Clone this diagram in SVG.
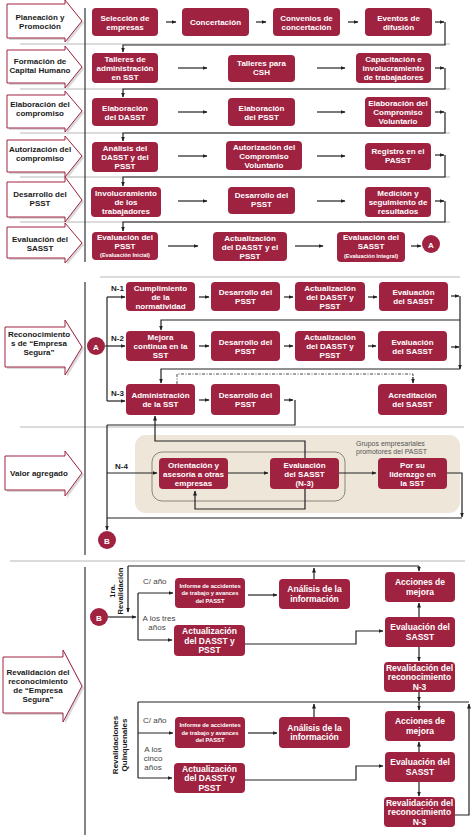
<svg xmlns="http://www.w3.org/2000/svg" width="474" height="835" viewBox="0 0 474 835">
<defs>
<style>
.bx{fill:#9F2241}
.t{font-family:"Liberation Sans",Arial,sans-serif;font-weight:700;fill:#fff;font-size:8px;text-anchor:middle}
.t3{font-family:"Liberation Sans",Arial,sans-serif;font-weight:700;fill:#fff;font-size:8.5px;text-anchor:middle}
.ts{font-size:5.5px}
.ti{font-family:"Liberation Sans",Arial,sans-serif;font-weight:700;fill:#fff;font-size:5.8px;text-anchor:middle}
.pl{font-family:"Liberation Sans",Arial,sans-serif;font-weight:700;fill:#1a1a1a;font-size:8px;text-anchor:middle}
.nl{font-family:"Liberation Sans",Arial,sans-serif;font-weight:700;fill:#1a1a1a;font-size:8px}
.rv{font-family:"Liberation Sans",Arial,sans-serif;font-weight:700;fill:#1a1a1a;font-size:7.6px;text-anchor:middle}
.rg{font-family:"Liberation Sans",Arial,sans-serif;font-weight:400;fill:#444;font-size:8px}
.gp{font-family:"Liberation Sans",Arial,sans-serif;font-weight:400;fill:#555;font-size:7px}
.pent{fill:#fff;stroke:#9F2241;stroke-width:1}
.sh{fill:#d9d9d9}
.ln{fill:none;stroke:#222;stroke-width:1.2}
.la{fill:none;stroke:#222;stroke-width:1.2;marker-end:url(#ah)}
.dv{stroke:#333;stroke-width:1.2}
.sep{stroke:#cfcfcf;stroke-width:1.5}
.dash{fill:none;stroke:#333;stroke-width:0.9;stroke-dasharray:3 1.5 1 1.5}
.circ{fill:#9F2241}
</style>
<marker id="ah" viewBox="0 0 10 10" refX="9" refY="5" markerWidth="5" markerHeight="5" markerUnits="userSpaceOnUse" orient="auto"><path d="M0,1 L10,5 L0,9 z" fill="#222"/></marker>
</defs>
<rect width="474" height="835" fill="#fff"/>

<g id="separators">
<line class="sep" x1="20" y1="44" x2="450" y2="44"/>
<line class="sep" x1="20" y1="89" x2="450" y2="89"/>
<line class="sep" x1="20" y1="133" x2="450" y2="133"/>
<line class="sep" x1="20" y1="177" x2="450" y2="177"/>
<line class="sep" x1="20" y1="222" x2="450" y2="222"/>
<line class="sep" x1="100" y1="277" x2="460" y2="277"/>
<line class="sep" x1="20" y1="427" x2="464" y2="427"/>
<line class="sep" x1="10" y1="561" x2="465" y2="561"/>
<line class="dv" x1="85" y1="8" x2="85" y2="262"/>
<line class="dv" x1="85" y1="282" x2="85" y2="555"/>
<line class="dv" x1="85" y1="567" x2="85" y2="835"/>
</g>

<g id="stage-planeacion">
<path class="sh" d="M9,6 H67 V2 L84,23 L67,44 V40 H9 Z"/>
<path class="pent" d="M7,4 H65 V0 L82,21 L65,42 V38 H7 Z"/>
<text class="pl" x="40" y="20">Planeación y<tspan x="40" dy="9">Promoción</tspan></text>
</g>
<g id="stage-formacion">
<path class="sh" d="M9,52 H67 V48 L84,69 L67,90 V85 H9 Z"/>
<path class="pent" d="M7,50 H65 V46 L82,67 L65,88 V83 H7 Z"/>
<text class="pl" x="40" y="64">Formación de<tspan x="40" dy="9">Capital Humano</tspan></text>
</g>
<g id="stage-elaboracion">
<path class="sh" d="M9,97 H67 V93 L84,113 L67,134 V130 H9 Z"/>
<path class="pent" d="M7,95 H65 V91 L82,111 L65,132 V128 H7 Z"/>
<text class="pl" x="40" y="107">Elaboración del<tspan x="40" dy="9">compromiso</tspan></text>
</g>
<g id="stage-autorizacion">
<path class="sh" d="M9,142 H67 V138 L84,158 L67,179 V174 H9 Z"/>
<path class="pent" d="M7,140 H65 V136 L82,156 L65,177 V172 H7 Z"/>
<text class="pl" x="40" y="152">Autorización del<tspan x="40" dy="9">compromiso</tspan></text>
</g>
<g id="stage-desarrollo">
<path class="sh" d="M9,184 H67 V179 L84,202 L67,224 V219 H9 Z"/>
<path class="pent" d="M7,182 H65 V177 L82,200 L65,222 V217 H7 Z"/>
<text class="pl" x="40" y="197">Desarrollo del<tspan x="40" dy="9">PSST</tspan></text>
</g>
<g id="stage-evaluacion">
<path class="sh" d="M9,229 H67 V225 L84,245 L67,265 V260 H9 Z"/>
<path class="pent" d="M7,227 H65 V223 L82,243 L65,263 V258 H7 Z"/>
<text class="pl" x="40" y="242">Evaluación del<tspan x="40" dy="9">SASST</tspan></text>
</g>
<g id="stage-reconocimiento">
<path class="sh" d="M7,329 H67 V322 L84,349 L67,377 V369 H7 Z"/>
<path class="pent" d="M5,327 H65 V320 L82,347 L65,375 V367 H5 Z"/>
<text class="pl" x="39" y="337">Reconocimiento<tspan x="39" dy="9">s de “Empresa</tspan><tspan x="39" dy="9">Segura”</tspan></text>
</g>
<g id="stage-valor">
<path class="sh" d="M7,458 H67 V453 L84,475 L67,498 V492 H7 Z"/>
<path class="pent" d="M5,456 H65 V451 L82,473 L65,496 V490 H5 Z"/>
<text class="pl" x="39" y="476">Valor agregado</text>
</g>
<g id="stage-revalidacion">
<path class="sh" d="M5,659 H65 V652 L84,688 L65,724 V715 H5 Z"/>
<path class="pent" d="M3,657 H63 V650 L82,686 L63,722 V713 H3 Z"/>
<text class="pl" x="38" y="675">Revalidación del<tspan x="38" dy="9">reconocimiento</tspan><tspan x="38" dy="9">de “Empresa</tspan><tspan x="38" dy="9">Segura”</tspan></text>
</g>

<g id="connectors">
<path class="la" d="M166,22 H176"/><path class="la" d="M256,22 H266"/><path class="la" d="M348,22 H358"/>
<path class="la" d="M435,22 H444"/><path class="la" d="M445,22 V45 H123 V52"/>
<path class="la" d="M178,68 H207"/><path class="la" d="M317,68 H345"/>
<path class="la" d="M435,68 H444"/><path class="la" d="M445,68 V89 H123 V97"/>
<path class="la" d="M178,112 H207"/><path class="la" d="M317,112 H345"/>
<path class="la" d="M435,112 H444"/><path class="la" d="M445,112 V133 H123 V141"/>
<path class="la" d="M178,156 H207"/><path class="la" d="M317,156 H345"/>
<path class="la" d="M435,155 H444"/><path class="la" d="M445,155 V177 H123 V186"/>
<path class="la" d="M178,201 H207"/><path class="la" d="M317,201 H345"/>
<path class="la" d="M435,201 H444"/><path class="la" d="M445,201 V222 H123 V231"/>
<path class="la" d="M168,246 H198"/><path class="la" d="M295,246 H323"/><path class="la" d="M411,246 H421"/>

<path class="ln" d="M105,346 H107"/>
<path class="ln" d="M107,297 V401"/>
<path class="la" d="M107,297 H125"/><path class="la" d="M107,346 H125"/><path class="la" d="M107,401 H125"/>
<path class="la" d="M199,297 H209"/><path class="la" d="M284,297 H293"/><path class="la" d="M368,297 H377"/>
<path class="la" d="M199,346 H209"/><path class="la" d="M284,346 H293"/><path class="la" d="M368,346 H376"/>
<path class="la" d="M451,296 H459"/><path class="la" d="M451,347 H459"/>
<path class="la" d="M460,296 V369"/>
<path class="la" d="M460,320 H161 V330"/>
<path class="la" d="M460,369 H161 V383"/>
<path class="dash" d="M177,384 V374 H413 V378"/>
<path class="la" d="M413,377 V383"/>
<path class="la" d="M199,400 H209"/>
<path class="la" d="M284,400 H293"/>
<path class="ln" d="M295,400 V425 H107"/>
<path class="la" d="M107,425 V530"/>
</g>

<g id="valor-area">
<rect x="135" y="435" width="325" height="78" rx="11" fill="#EDE6D9"/>
<rect x="152" y="452" width="193" height="49" rx="10" fill="none" stroke="#8C857A" stroke-width="1"/>
<text class="gp" x="356" y="446">Grupos empresariales<tspan x="356" dy="8">promotores del PASST</tspan></text>
</g>

<g id="connectors-valor">
<path class="la" d="M107,473 H157"/>
<path class="la" d="M228,473 H268"/>
<path class="la" d="M339,473 H376"/>
<path class="la" d="M305,458 V441 H155 V416"/>
<path class="la" d="M305,489 V509 H195 V491"/>
<path class="la" d="M447,473 H462 V517"/>
<path class="ln" d="M462,518 H107"/>
</g>

<g id="connectors-revalidacion">
<path class="la" d="M108,617 H136"/>
<path class="la" d="M314,579 V568"/>
<path class="ln" d="M128,566 H419"/>
<path class="la" d="M128,566 V612"/>
<path class="la" d="M419,566 V571"/>
<path class="ln" d="M138,593 V640"/>
<path class="la" d="M138,593 H173"/><path class="la" d="M138,640 H172"/>
<path class="la" d="M248,595 H277"/>
<path class="la" d="M245,644 H356 V631 H383"/>
<path class="la" d="M419,617 V603"/>
<path class="la" d="M419,647 V661"/>
<path class="la" d="M419,692 V701"/>
<path class="ln" d="M138,702 H469"/>
<path class="la" d="M419,702 V710"/>
<path class="ln" d="M138,702 V778"/>
<path class="la" d="M138,733 H173"/><path class="la" d="M138,778 H172"/>
<path class="la" d="M248,733 H277"/>
<path class="la" d="M245,780 H356 V766 H383"/>
<path class="la" d="M314,717 V704"/>
<path class="la" d="M419,752 V742"/>
<path class="la" d="M419,782 V796"/>
<path class="la" d="M455,815 H469 V704"/>
</g>

<g id="n-seleccion"><rect class="bx" x="92" y="8" width="66" height="28" rx="4"/><text class="t" x="125" y="20.5">Selección de<tspan x="125" dy="9">empresas</tspan></text></g>
<g id="n-concertacion"><rect class="bx" x="182" y="8" width="67" height="28" rx="4"/><text class="t" x="215.5" y="25">Concertación</text></g>
<g id="n-convenios"><rect class="bx" x="273" y="8" width="67" height="28" rx="4"/><text class="t" x="306.5" y="20.5">Convenios de<tspan x="306.5" dy="9">concertación</tspan></text></g>
<g id="n-eventos"><rect class="bx" x="365" y="8" width="67" height="28" rx="4"/><text class="t" x="398.5" y="20.5">Eventos de<tspan x="398.5" dy="9">difusión</tspan></text></g>

<g id="n-talleres-adm"><rect class="bx" x="92" y="53" width="66" height="30" rx="4"/><text class="t" x="125" y="62">Talleres de<tspan x="125" dy="9">administración</tspan><tspan x="125" dy="9">en SST</tspan></text></g>
<g id="n-talleres-csh"><rect class="bx" x="228" y="55" width="67" height="27" rx="4"/><text class="t" x="261.5" y="66">Talleres para<tspan x="261.5" dy="9">CSH</tspan></text></g>
<g id="n-capacitacion"><rect class="bx" x="356" y="53" width="75" height="30" rx="4"/><text class="t" x="393.5" y="62">Capacitación e<tspan x="393.5" dy="9">involucramiento</tspan><tspan x="393.5" dy="9">de trabajadores</tspan></text></g>

<g id="n-elab-dasst"><rect class="bx" x="92" y="98" width="66" height="28" rx="4"/><text class="t" x="125" y="110.5">Elaboración<tspan x="125" dy="9">del DASST</tspan></text></g>
<g id="n-elab-psst"><rect class="bx" x="228" y="98" width="67" height="28" rx="4"/><text class="t" x="261.5" y="110.5">Elaboración<tspan x="261.5" dy="9">del PSST</tspan></text></g>
<g id="n-elab-cv"><rect class="bx" x="365" y="97" width="66" height="30" rx="4"/><text class="t" x="398" y="106">Elaboración del<tspan x="398" dy="9">Compromiso</tspan><tspan x="398" dy="9">Voluntario</tspan></text></g>

<g id="n-analisis"><rect class="bx" x="92" y="142" width="66" height="30" rx="4"/><text class="t" x="125" y="151">Análisis del<tspan x="125" dy="9">DASST y del</tspan><tspan x="125" dy="9">PSST</tspan></text></g>
<g id="n-autorizacion"><rect class="bx" x="226" y="141" width="76" height="29" rx="4"/><text class="t" x="264" y="149.5">Autorización del<tspan x="264" dy="9">Compromiso</tspan><tspan x="264" dy="9">Voluntario</tspan></text></g>
<g id="n-registro"><rect class="bx" x="365" y="143" width="66" height="27" rx="4"/><text class="t" x="398" y="154">Registro en el<tspan x="398" dy="9">PASST</tspan></text></g>

<g id="n-involucramiento"><rect class="bx" x="91" y="187" width="70" height="30" rx="4"/><text class="t" x="126" y="196">Involucramiento<tspan x="126" dy="9">de los</tspan><tspan x="126" dy="9">trabajadores</tspan></text></g>
<g id="n-desarrollo"><rect class="bx" x="228" y="187" width="67" height="27" rx="4"/><text class="t" x="261.5" y="198">Desarrollo del<tspan x="261.5" dy="9">PSST</tspan></text></g>
<g id="n-medicion"><rect class="bx" x="365" y="187" width="66" height="30" rx="4"/><text class="t" x="398" y="196">Medición y<tspan x="398" dy="9">seguimiento de</tspan><tspan x="398" dy="9">resultados</tspan></text></g>

<g id="n-eval-psst"><rect class="bx" x="92" y="232" width="66" height="28" rx="4"/><text class="t" x="125" y="240">Evaluación del<tspan x="125" dy="9">PSST</tspan><tspan class="ts" x="125" dy="8">(Evaluación Inicial)</tspan></text></g>
<g id="n-actualizacion"><rect class="bx" x="213" y="232" width="74" height="29" rx="4"/><text class="t" x="250" y="240.5">Actualización<tspan x="250" dy="9">del DASST y el</tspan><tspan x="250" dy="9">PSST</tspan></text></g>
<g id="n-eval-sasst"><rect class="bx" x="337" y="232" width="68" height="30" rx="4"/><text class="t" x="371" y="240">Evaluación del<tspan x="371" dy="9">SASST</tspan><tspan class="ts" x="371" dy="8.5">(Evaluación Integral)</tspan></text></g>
<g id="n-a1"><circle class="circ" cx="431" cy="244" r="9"/><text class="t" x="431" y="247.5">A</text></g>

<g id="n-a2"><circle class="circ" cx="96" cy="346" r="9"/><text class="t" x="96" y="349.5">A</text></g>
<g id="n-labels">
<text class="nl" x="111" y="291">N-1</text>
<text class="nl" x="111" y="341">N-2</text>
<text class="nl" x="111" y="396">N-3</text>
<text class="nl" x="115" y="469">N-4</text>
</g>
<g id="n1-cumplimiento"><rect class="bx" x="126" y="282" width="69" height="29" rx="4"/><text class="t" x="160.5" y="290.5">Cumplimiento<tspan x="160.5" dy="9">de la</tspan><tspan x="160.5" dy="9">normatividad</tspan></text></g>
<g id="n1-desarrollo"><rect class="bx" x="211" y="282" width="69" height="29" rx="4"/><text class="t" x="245.5" y="295">Desarrollo del<tspan x="245.5" dy="9">PSST</tspan></text></g>
<g id="n1-actualizacion"><rect class="bx" x="295" y="282" width="70" height="29" rx="4"/><text class="t" x="330" y="290.5">Actualización<tspan x="330" dy="9">del DASST y</tspan><tspan x="330" dy="9">PSST</tspan></text></g>
<g id="n1-evaluacion"><rect class="bx" x="379" y="282" width="69" height="29" rx="4"/><text class="t" x="413.5" y="295">Evaluación<tspan x="413.5" dy="9">del SASST</tspan></text></g>

<g id="n2-mejora"><rect class="bx" x="126" y="331" width="69" height="30" rx="4"/><text class="t" x="160.5" y="340">Mejora<tspan x="160.5" dy="9">continua en la</tspan><tspan x="160.5" dy="9">SST</tspan></text></g>
<g id="n2-desarrollo"><rect class="bx" x="211" y="331" width="69" height="30" rx="4"/><text class="t" x="245.5" y="344.5">Desarrollo del<tspan x="245.5" dy="9">PSST</tspan></text></g>
<g id="n2-actualizacion"><rect class="bx" x="295" y="331" width="70" height="30" rx="4"/><text class="t" x="330" y="340">Actualización<tspan x="330" dy="9">del DASST y</tspan><tspan x="330" dy="9">PSST</tspan></text></g>
<g id="n2-evaluacion"><rect class="bx" x="378" y="331" width="69" height="30" rx="4"/><text class="t" x="412.5" y="344.5">Evaluación<tspan x="412.5" dy="9">del SASST</tspan></text></g>

<g id="n3-administracion"><rect class="bx" x="126" y="384" width="69" height="31" rx="4"/><text class="t" x="160.5" y="398">Administración<tspan x="160.5" dy="9">de la SST</tspan></text></g>
<g id="n3-desarrollo"><rect class="bx" x="211" y="384" width="69" height="31" rx="4"/><text class="t" x="245.5" y="398">Desarrollo del<tspan x="245.5" dy="9">PSST</tspan></text></g>
<g id="n3-acreditacion"><rect class="bx" x="378" y="384" width="69" height="31" rx="4"/><text class="t" x="412.5" y="398">Acreditación<tspan x="412.5" dy="9">del SASST</tspan></text></g>

<g id="n4-orientacion"><rect class="bx" x="159" y="458" width="69" height="31" rx="4"/><text class="t" x="193.5" y="467.5">Orientación y<tspan x="193.5" dy="9">asesoría a otras</tspan><tspan x="193.5" dy="9">empresas</tspan></text></g>
<g id="n4-evaluacion"><rect class="bx" x="270" y="458" width="69" height="31" rx="4"/><text class="t" x="304.5" y="467.5">Evaluación<tspan x="304.5" dy="9">del SASST</tspan><tspan x="304.5" dy="9">(N-3)</tspan></text></g>
<g id="n4-liderazgo"><rect class="bx" x="378" y="458" width="69" height="31" rx="4"/><text class="t" x="412.5" y="467.5">Por su<tspan x="412.5" dy="9">liderazgo en</tspan><tspan x="412.5" dy="9">la SST</tspan></text></g>
<g id="n-b1"><circle class="circ" cx="107" cy="540" r="9"/><text class="t" x="107" y="543.5">B</text></g>

<g id="n-b2"><circle class="circ" cx="99" cy="617" r="9"/><text class="t" x="99" y="620.5">B</text></g>
<g id="rev-labels">
<text class="rv" transform="translate(114.5,591) rotate(-90)">1ra.<tspan x="0" dy="8.6">Revalidación</tspan></text>
<text class="nl" transform="translate(118,745) rotate(-90)" text-anchor="middle">Revalidaciones<tspan x="0" dy="9">Quinquenales</tspan></text>
<text class="rg" x="143" y="584">C/ año</text>
<text class="rg" x="159" y="621" text-anchor="middle">A los tres<tspan x="157" dy="9">años</tspan></text>
<text class="rg" x="143" y="723">C/ año</text>
<text class="rg" x="153" y="752" text-anchor="middle">A los<tspan x="153" dy="9">cinco</tspan><tspan x="153" dy="9">años</tspan></text>
</g>

<g id="r1-informe"><rect class="bx" x="175" y="578" width="70" height="30" rx="4"/><text class="ti" x="210" y="587.5">Informe de accidentes<tspan x="210" dy="7.5">de trabajo y avances</tspan><tspan x="210" dy="7.5">del PASST</tspan></text></g>
<g id="r1-actualizacion"><rect class="bx" x="174" y="625" width="71" height="31" rx="4"/><text class="t3" x="209.5" y="634">Actualización<tspan x="209.5" dy="9.5">del DASST y</tspan><tspan x="209.5" dy="9.5">PSST</tspan></text></g>
<g id="r1-analisis"><rect class="bx" x="279" y="579" width="71" height="30" rx="4"/><text class="t3" x="314.5" y="592">Análisis de la<tspan x="314.5" dy="9.5">información</tspan></text></g>
<g id="r1-acciones"><rect class="bx" x="385" y="572" width="70" height="30" rx="4"/><text class="t3" x="420" y="585">Acciones de<tspan x="420" dy="9.5">mejora</tspan></text></g>
<g id="r1-evaluacion"><rect class="bx" x="385" y="617" width="70" height="30" rx="4"/><text class="t3" x="420" y="630">Evaluación del<tspan x="420" dy="9.5">SASST</tspan></text></g>
<g id="r1-revalidacion"><rect class="bx" x="384" y="662" width="71" height="30" rx="4"/><text class="t3" x="419.5" y="670.5">Revalidación del<tspan x="419.5" dy="9.5">reconocimiento</tspan><tspan x="419.5" dy="9.5">N-3</tspan></text></g>

<g id="r2-informe"><rect class="bx" x="175" y="717" width="70" height="31" rx="4"/><text class="ti" x="210" y="727">Informe de accidentes<tspan x="210" dy="7.5">de trabajo y avances</tspan><tspan x="210" dy="7.5">del PASST</tspan></text></g>
<g id="r2-actualizacion"><rect class="bx" x="174" y="763" width="71" height="30" rx="4"/><text class="t3" x="209.5" y="771.5">Actualización<tspan x="209.5" dy="9.5">del DASST y</tspan><tspan x="209.5" dy="9.5">PSST</tspan></text></g>
<g id="r2-analisis"><rect class="bx" x="279" y="717" width="71" height="31" rx="4"/><text class="t3" x="314.5" y="730.5">Análisis de la<tspan x="314.5" dy="9.5">información</tspan></text></g>
<g id="r2-acciones"><rect class="bx" x="385" y="711" width="70" height="30" rx="4"/><text class="t3" x="420" y="724">Acciones de<tspan x="420" dy="9.5">mejora</tspan></text></g>
<g id="r2-evaluacion"><rect class="bx" x="385" y="752" width="70" height="30" rx="4"/><text class="t3" x="420" y="765">Evaluación del<tspan x="420" dy="9.5">SASST</tspan></text></g>
<g id="r2-revalidacion"><rect class="bx" x="384" y="797" width="71" height="30" rx="4"/><text class="t3" x="419.5" y="805.5">Revalidación del<tspan x="419.5" dy="9.5">reconocimiento</tspan><tspan x="419.5" dy="9.5">N-3</tspan></text></g>
</svg>
